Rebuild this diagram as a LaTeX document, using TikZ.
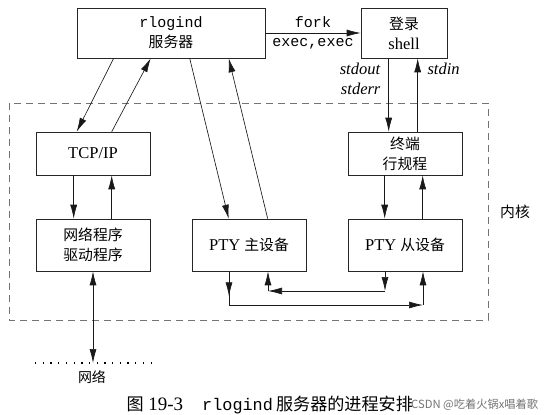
\documentclass[tikz,border=0pt]{standalone}
\usepackage{fontspec}
\setmainfont{Liberation Serif}
\setmonofont[Scale=0.91]{Liberation Mono}
\newfontfamily\cjk[Scale=0.9]{Noto Sans CJK SC}
\usepackage{tikz}
\usetikzlibrary{positioning}
\usetikzlibrary{arrows.meta}
\usetikzlibrary{decorations.markings}
\pgfdeclarelayer{nodelayer}
\pgfdeclarelayer{edgelayer}
\pgfsetlayers{nodelayer,edgelayer,main}
\tikzset{
  box/.style={draw=black!85, line width=0.6pt, inner sep=0pt, align=center, minimum width=114pt},
  line/.style={draw=black!90, line width=0.65pt},
  arr/.style={line, >={Latex[length=14pt,width=7pt]}, ->},
  midarr/.style={postaction={decorate}, decoration={markings,
      mark=at position #1 with {\arrow{Latex[length=14pt,width=7pt]}}}},
  kernel/.style={draw=black!55, line width=0.6pt, dash pattern=on 7pt off 5pt},
  dots/.style={draw=black, line width=1.3pt, dash pattern=on 1.3pt off 6.4pt},
}

\begin{document}
\begin{tikzpicture}[x=1pt, y=-1pt, font=\fontsize{16.5}{20}\selectfont]
  \useasboundingbox (0,0) rectangle (550,415);
  \begin{pgfonlayer}{nodelayer}
    \node [box, minimum width=188pt, minimum height=50pt] (0) at (171,33) {\texttt{rlogind}\\{\cjk 服务器}};
    \node [box, minimum width=86pt, minimum height=50pt] (1) at (404,33) {{\cjk 登录}\\shell};
    \node [box, minimum height=43pt] (2) at (93,153.5) {TCP/IP};
    \node [box, minimum height=43pt] (3) at (405,153.5) {{\cjk 终端}\\{\cjk 行规程}};
    \node [box, minimum height=52pt] (4) at (93,245) {{\cjk 网络程序}\\{\cjk 驱动程序}};
    \node [box, minimum height=52pt] (5) at (249,245) {PTY {\cjk 主设备}};
    \node [box, minimum height=52pt] (6) at (405,245) {PTY {\cjk 从设备}};
    \draw [kernel] (9,103) rectangle (488,320);
    \node [] (10) at (515,212) {\fontsize{16.5}{18}\selectfont\cjk 内核};
    \coordinate (7) at (35,363);
    \coordinate (8) at (151,363);
    \node [] (9) at (92,377) {\fontsize{15.5}{18}\selectfont\cjk 网络};
    \node [anchor=east, align=right] (11) at (384,79) {\textit{stdout}\\\textit{stderr}};
    \node [anchor=west] (12) at (424,69) {\textit{stdin}};
    \coordinate (p1) at (229,305);
    \coordinate (p2) at (423,305);
    \coordinate (p3) at (385,291);
    \coordinate (p4) at (268,291);
    \node [anchor=west, font=\fontsize{19}{22}\selectfont] (13) at (123,405) {{\cjk 图} 19-3\quad{\fontsize{18.5}{22}\selectfont\texttt{rlogind}}\,{\cjk 服务器的进程安排}};
    \node [anchor=west, inner sep=0pt, text=black!55, font=\fontsize{12.5}{15}\selectfont] (14) at (411,405) {\cjk CSDN @吃着火锅x唱着歌};
  \end{pgfonlayer}
  \begin{pgfonlayer}{edgelayer}
    \draw [arr] (0.east) to node [above=2pt] {\texttt{fork}} node [below=2pt] {\texttt{exec,exec}} (1.west);
    \draw [arr] ([xshift=37pt]0.south west) to ([xshift=41pt]2.north west);
    \draw [arr] ([xshift=76pt]2.north west) to ([xshift=74pt]0.south west);
    \draw [arr] ([xshift=113pt]0.south west) to ([xshift=37pt]5.north west);
    \draw [arr] ([xshift=76pt]5.north west) to ([xshift=152pt]0.south west);
    \draw [arr] ([xshift=28pt]1.south west) to ([xshift=41pt]3.north west);
    \draw [arr] ([xshift=70pt]3.north west) to ([xshift=57pt]1.south west);
    \draw [arr] ([xshift=38pt]2.south west) to ([xshift=38pt]4.north west);
    \draw [arr] ([xshift=76pt]4.north west) to ([xshift=76pt]2.south west);
    \draw [arr] ([xshift=37pt]3.south west) to ([xshift=37pt]6.north west);
    \draw [arr] ([xshift=75pt]6.north west) to ([xshift=75pt]3.south west);
    % master -> slave
    \draw [line, midarr=25pt] (p1 |- 5.south) to (p1);
    \draw [arr] (p1) to (p2);
    \draw [arr] (p2) to (p2 |- 6.south);
    % slave -> master
    \draw [arr] (p3 |- 6.south) to (p3);
    \draw [arr] (p3) to (p4);
    \draw [arr] (p4) to (p4 |- 5.south);
    % network
    \draw [dots] (7) to (8);
    \draw [arr, <->] (4.south) to (4.south |- 7);
  \end{pgfonlayer}
\end{tikzpicture}
\end{document}
